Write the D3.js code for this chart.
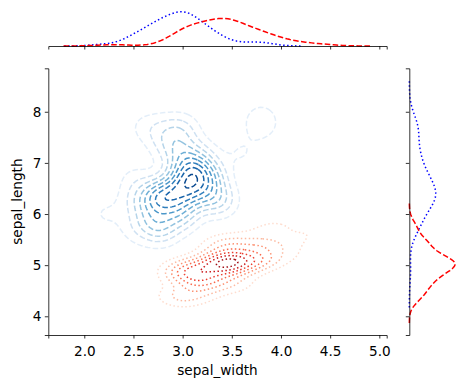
<!DOCTYPE html>
<meta charset="utf-8">
<title>Iris sepal KDE joint plot</title>
<style>
body { margin: 0; background: #fff; }
svg text { font-family: "DejaVu Sans", sans-serif; }
</style>
<body>
<div id="my_dataviz"></div>
<script src="https://d3js.org/d3.v7.min.js"></script>
<script>

// iris observations (sepal width / sepal length) for the two species
var setosaWidth = [3.5,3.0,3.2,3.1,3.6,3.9,3.4,3.4,2.9,3.1,3.7,3.4,3.0,3.0,4.0,4.4,3.9,3.5,3.8,3.8,3.4,3.7,3.6,3.3,3.4,3.0,3.4,3.5,3.4,3.2,3.1,3.4,4.1,4.2,3.1,3.2,3.5,3.6,3.0,3.4,3.5,2.3,3.2,3.5,3.8,3.0,3.8,3.2,3.7,3.3];
var setosaLength = [5.1,4.9,4.7,4.6,5.0,5.4,4.6,5.0,4.4,4.9,5.4,4.8,4.8,4.3,5.8,5.7,5.4,5.1,5.7,5.1,5.4,5.1,4.6,5.1,4.8,5.0,5.0,5.2,5.2,4.7,4.8,5.4,5.2,5.5,4.9,5.0,5.5,4.9,4.4,5.1,5.0,4.5,4.4,5.0,5.1,4.8,5.1,4.6,5.3,5.0];
var virginicaWidth = [3.3,2.7,3.0,2.9,3.0,3.0,2.5,2.9,2.5,3.6,3.2,2.7,3.0,2.5,2.8,3.2,3.0,3.8,2.6,2.2,3.2,2.8,2.8,2.7,3.3,3.2,2.8,3.0,2.8,3.0,2.8,3.8,2.8,2.8,2.6,3.0,3.4,3.1,3.0,3.1,3.1,3.1,2.7,3.2,3.3,3.0,2.5,3.0,3.4,3.0];
var virginicaLength = [6.3,5.8,7.1,6.3,6.5,7.6,4.9,7.3,6.7,7.2,6.5,6.4,6.8,5.7,5.8,6.4,6.5,7.7,7.7,6.0,6.9,5.6,7.7,6.3,6.7,7.2,6.2,6.1,6.4,7.2,7.4,7.9,6.4,6.3,6.1,7.7,6.3,6.4,6.0,6.9,6.7,6.9,5.8,6.8,6.7,6.7,6.3,6.5,6.2,5.9];

// axis ticks and labels
var xTicks = [2.0, 2.5, 3.0, 3.5, 4.0, 4.5, 5.0];
var yTicks = [4, 5, 6, 7, 8];
var xLabel = "sepal_width";
var yLabel = "sepal_length";

var W = 468, H = 389;
var plot = {left: 48.3, right: 386.7, top: 68.3, bottom: 335};
var fontSize = 13.6;

var svg = d3.select("#my_dataviz")
  .append("svg")
    .attr("width", W)
    .attr("height", H);

var x = d3.scaleLinear().domain([1.634, 5.075]).range([plot.left, plot.right]);
var y = d3.scaleLinear().domain([3.634, 8.85]).range([plot.bottom, plot.top]);

// scott rule as in statsmodels: 1.059 * min(sd, IQR/1.349) * n^-1/5
function bwScott(vals) {
  var s = vals.slice().sort(d3.ascending);
  var iqr = (d3.quantileSorted(s, 0.75) - d3.quantileSorted(s, 0.25)) / 1.349;
  return 1.059 * Math.min(d3.deviation(vals), iqr) * Math.pow(vals.length, -0.2);
}

// product gaussian kernel on a grid, cut = 3 bandwidths
function kde2d(xs, ys, size) {
  var n = xs.length, hx = bwScott(xs), hy = bwScott(ys);
  var x0 = d3.min(xs) - 3 * hx, x1 = d3.max(xs) + 3 * hx;
  var y0 = d3.min(ys) - 3 * hy, y1 = d3.max(ys) + 3 * hy;
  var dx = (x1 - x0) / (size - 1), dy = (y1 - y0) / (size - 1);
  var norm = 1 / (2 * Math.PI * hx * hy * n);
  var values = new Array(size * size);
  for (var j = 0; j < size; j++) {
    for (var i = 0; i < size; i++) {
      var gx = x0 + i * dx, gy = y0 + j * dy, s = 0;
      for (var k = 0; k < n; k++) {
        var u = (gx - xs[k]) / hx, v = (gy - ys[k]) / hy;
        s += Math.exp(-0.5 * (u * u + v * v));
      }
      values[i + j * size] = s * norm;
    }
  }
  return {values: values, size: size, x0: x0, y0: y0, dx: dx, dy: dy};
}

// levels picked like matplotlib's MaxNLocator(11) from 0 to max
function autoLevels(zmax) {
  var raw = zmax / 11;
  var scale = Math.pow(10, Math.floor(Math.log10(raw)));
  var step = [1, 2, 2.5, 5, 10].map(function(m) { return m * scale; })
    .find(function(s) { return s >= raw - 1e-12; });
  var top = Math.ceil(zmax / step - 1e-9);
  return d3.range(top + 1).map(function(i) { return i * step; });
}

function drawContours(xs, ys, interp, dash) {
  var g = kde2d(xs, ys, 100);
  var zmax = d3.max(g.values);
  var levels = autoLevels(zmax);
  var lmax = d3.max(levels);
  var drawn = levels.filter(function(l) { return l > 0 && l < zmax; });
  var proj = d3.geoTransform({
    point: function(px, py) {
      this.stream.point(x(g.x0 + (px - 0.5) * g.dx), y(g.y0 + (py - 0.5) * g.dy));
    }
  });
  var path = d3.geoPath(proj);
  var contours = d3.contours().size([g.size, g.size]).thresholds(drawn)(g.values);
  svg.append("g")
    .attr("clip-path", "url(#clip)")
    .selectAll("path")
    .data(contours)
    .enter()
    .append("path")
      .attr("d", path)
      .attr("fill", "none")
      .attr("stroke", function(d) { return interp(d.value / lmax); })
      .attr("stroke-width", 1.5)
      .attr("stroke-dasharray", dash);
}

// 1d gaussian kde, cut = 3
function kde1d(vals) {
  var bw = bwScott(vals);
  var lo = d3.min(vals) - 3 * bw, hi = d3.max(vals) + 3 * bw;
  return d3.range(100).map(function(i) {
    var t = lo + i * (hi - lo) / 99;
    var dens = d3.mean(vals, function(v) {
      var u = (t - v) / bw;
      return Math.exp(-0.5 * u * u) / Math.sqrt(2 * Math.PI);
    }) / bw;
    return [t, dens];
  });
}

svg.append("clipPath").attr("id", "clip")
  .append("rect")
    .attr("x", plot.left).attr("y", plot.top)
    .attr("width", plot.right - plot.left).attr("height", plot.bottom - plot.top);

var dotted = "1.5,2.475", dashed = "5.55,2.4";

drawContours(setosaWidth, setosaLength, d3.interpolateReds, dotted);
drawContours(virginicaWidth, virginicaLength, d3.interpolateBlues, dashed);

// main axes
var xAxis = svg.append("g")
  .attr("transform", "translate(0," + plot.bottom + ")")
  .call(d3.axisBottom(x).tickValues(xTicks).tickFormat(d3.format(".1f")).tickSizeOuter(0).tickSize(3.5).tickPadding(3.5));
xAxis.selectAll("text").attr("dy", "1.03em");
var yAxis = svg.append("g")
  .attr("transform", "translate(" + plot.left + ",0)")
  .call(d3.axisLeft(y).tickValues(yTicks).tickFormat(d3.format("d")).tickSizeOuter(0).tickSize(3.5).tickPadding(3.5));

svg.selectAll(".tick text").attr("font-size", fontSize).attr("fill", "#000").attr("font-family", "DejaVu Sans");
svg.selectAll(".domain, .tick line").attr("stroke", "#000").attr("stroke-width", 0.8);

svg.append("text")
  .attr("x", (plot.left + plot.right) / 2)
  .attr("y", 374.5)
  .attr("text-anchor", "middle")
  .attr("font-size", fontSize)
  .text(xLabel);
svg.append("text")
  .attr("transform", "translate(21.5," + (plot.top + plot.bottom) / 2 + ") rotate(-90)")
  .attr("text-anchor", "middle")
  .attr("font-size", fontSize)
  .text(yLabel);

// top marginal (sepal width)
var topBase = 46;
var setosaW = kde1d(setosaWidth), virginicaW = kde1d(virginicaWidth);
var topMax = d3.max(setosaW.concat(virginicaW), function(d) { return d[1]; });
var yTop = d3.scaleLinear().domain([0, topMax * 1.05]).range([topBase, topBase - 36]);
var topLine = d3.line()
  .x(function(d) { return x(d[0]); })
  .y(function(d) { return yTop(d[1]); });
svg.append("path").attr("d", topLine(virginicaW))
  .attr("fill", "none").attr("stroke", "blue").attr("stroke-width", 1.5).attr("stroke-dasharray", dotted);
svg.append("path").attr("d", topLine(setosaW))
  .attr("fill", "none").attr("stroke", "red").attr("stroke-width", 1.5).attr("stroke-dasharray", dashed);
svg.append("g")
  .attr("transform", "translate(0," + topBase + ")")
  .call(d3.axisBottom(x).tickValues(xTicks).tickFormat("").tickSizeOuter(0).tickSize(3.5))
  .selectAll(".domain, .tick line").attr("stroke", "#000").attr("stroke-width", 0.8);

// right marginal (sepal length)
var rightBase = 409.3;
var setosaL = kde1d(setosaLength), virginicaL = kde1d(virginicaLength);
var rightMax = d3.max(setosaL.concat(virginicaL), function(d) { return d[1]; });
var xRight = d3.scaleLinear().domain([0, rightMax * 1.05]).range([rightBase, rightBase + 48]);
var rightLine = d3.line()
  .x(function(d) { return xRight(d[1]); })
  .y(function(d) { return y(d[0]); });
svg.append("path").attr("d", rightLine(virginicaL))
  .attr("fill", "none").attr("stroke", "blue").attr("stroke-width", 1.5).attr("stroke-dasharray", dotted);
svg.append("path").attr("d", rightLine(setosaL))
  .attr("fill", "none").attr("stroke", "red").attr("stroke-width", 1.5).attr("stroke-dasharray", dashed);
svg.append("g")
  .attr("transform", "translate(" + rightBase + ",0)")
  .call(d3.axisLeft(y).tickValues(yTicks).tickFormat("").tickSizeOuter(0).tickSize(3.5))
  .selectAll(".domain, .tick line").attr("stroke", "#000").attr("stroke-width", 0.8);

</script>
</body>
